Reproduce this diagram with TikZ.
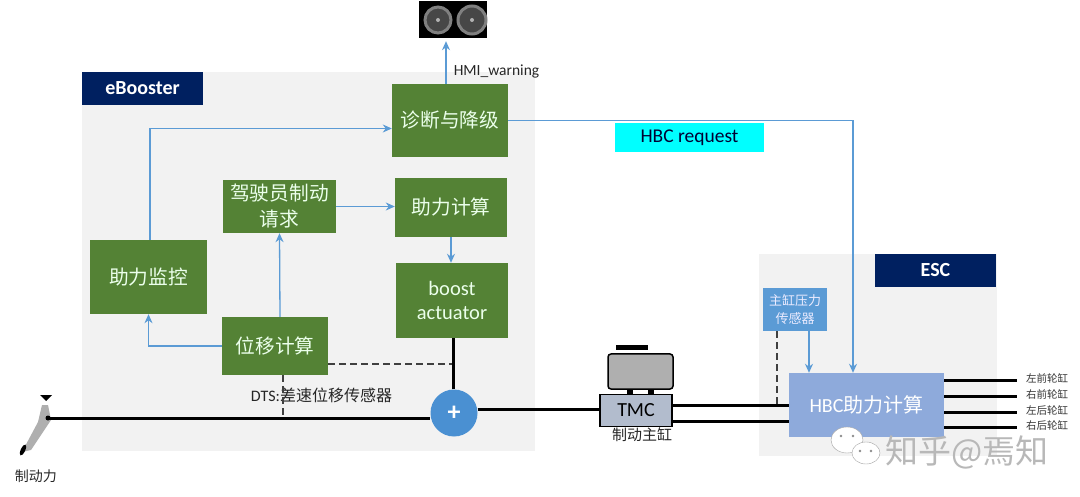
\documentclass[tikz,border=0pt]{standalone}
\usepackage{fontspec}
\usepackage{xcolor}
\setmainfont{Carlito}
\newfontfamily\cjk{Noto Sans CJK SC}
\usetikzlibrary{arrows.meta}
\definecolor{panelgray}{RGB}{242, 242, 242}
\definecolor{labelnavy}{RGB}{0, 32, 96}
\definecolor{blockgreen}{RGB}{84, 130, 53}
\definecolor{flowblue}{RGB}{91, 155, 213}
\definecolor{plusblue}{RGB}{74, 144, 210}
\definecolor{hbcblue}{RGB}{142, 170, 219}
\definecolor{requestcyan}{RGB}{0, 255, 255}
\definecolor{tankgray}{RGB}{175, 175, 175}
\definecolor{tmcgray}{RGB}{178, 188, 205}

\begin{document}
\begin{tikzpicture}[
    x=1pt, y=-1pt,
    tag/.style={
        fill=labelnavy,
        text=white,
        inner sep=0pt,
        minimum height=33pt,
        minimum width=121pt,
        font=\fontsize{20}{22}\selectfont\bfseries
    },
    block/.style={
        fill=blockgreen,
        text=white!92!green,
        inner sep=0pt,
        align=center,
        font=\fontsize{19.7}{26}\selectfont\cjk
    },
    flow/.style={
        ->,
        >={Stealth[length=9pt,width=8pt]},
        flowblue,
        line width=1.3pt
    },
    rod/.style={
        black,
        line width=3pt
    },
    sensorline/.style={
        dash pattern=on 7pt off 4pt,
        black!75,
        line width=1.3pt
    },
    wheel/.style={
        font=\fontsize{10.5}{12}\selectfont\cjk,
        text=black!80
    },
    caption/.style={
        font=\fontsize{15}{16}\selectfont\cjk,
        text=black!85
    }
]
\useasboundingbox (0,0) rectangle (1080,497);

% Panels
\fill[panelgray] (82,72) rectangle (535,451);
\fill[panelgray] (759,254) rectangle (997,456);
\node[tag] (ebooster) at (142.5,88.5) {eBooster};
\node[tag] (esc) at (935.5,270.5) {ESC};

% Dashboard
\node[fill=black, minimum width=68pt, minimum height=37pt, inner sep=0pt] (hmi) at (453,19.5) {};
\foreach \gx/\gr in {438/13, 472/14} {
    \draw[black!50, fill=black!72, line width=3pt] (\gx,20) circle (\gr);
    \fill[black!30] (\gx,20) circle (2);
}

% Blocks
\node[block, minimum width=116pt, minimum height=73pt] (diag) at (450,120.5) {诊断与降级};
\node[block, minimum width=113pt, minimum height=53pt] (driver) at (279.5,206.5) {驾驶员制动\\请求};
\node[block, minimum width=112pt, minimum height=59pt] (calc) at (451,207.5) {助力计算};
\node[block, minimum width=117pt, minimum height=74pt] (monitor) at (148.5,277) {助力监控};
\node[block, minimum width=112pt, minimum height=75pt, font=\fontsize{20.5}{24}\selectfont] (boost) at (452,300.5) {boost\\actuator};
\node[block, minimum width=106pt, minimum height=58pt] (disp) at (275,346) {位移计算};
\node[circle, fill=plusblue, text=white, minimum size=47pt, inner sep=0pt, font=\fontsize{26}{26}\selectfont\bfseries] (plus) at (454,413) {+};

% ESC side
\node[fill=flowblue, text=white!92!blue, minimum width=64pt, minimum height=43pt, inner sep=0pt, align=center, font=\fontsize{13}{18}\selectfont\cjk] (sensor) at (795,309.5) {主缸压力\\传感器};
\node[fill=hbcblue, text=white, minimum width=155pt, minimum height=64pt, inner sep=0pt, font=\fontsize{20}{22}\selectfont] (hbc) at (866.5,405) {HBC{\cjk 助力计算}};
\node[fill=requestcyan, text=black!80!blue, minimum width=149pt, minimum height=29pt, inner sep=0pt, font=\fontsize{19.5}{22}\selectfont] (request) at (689.5,137.5) {HBC request};

% Master cylinder
\fill[black] (616,345) rectangle (648,350);
\draw[black, fill=tankgray, rounded corners=3pt, line width=1.5pt] (608,354) rectangle (673,389);
\fill[black] (627,389) rectangle (633,394);
\fill[black] (648,389) rectangle (654,394);
\node[draw=black, fill=tmcgray, minimum width=72pt, minimum height=32pt, inner sep=0pt, line width=1.5pt, font=\fontsize{20}{20}\selectfont] (tmc) at (636,410.5) {TMC};

% Pedal
\fill[black] (40,395) -- (52,395) -- (46,401) -- cycle;
\fill[tankgray] (42,405) -- (48,405) -- (51,420) -- (31,450) -- (22,452) -- (38,422) -- cycle;
\fill[black, rotate around={65:(23,450)}] (23,450) ellipse (6 and 2.2);
\coordinate (pin) at (48,418);
\fill[black] (pin) circle (2.5);

% Text labels
\node[caption, font=\fontsize{15.5}{16}\selectfont] (warning) at (496.5,72) {HMI\_warning};
\node[caption, font=\fontsize{16}{16}\selectfont] (dts) at (321.5,395) {DTS:{\cjk 差速位移传感器}};
\node[caption, font=\fontsize{14}{16}\selectfont\cjk] (force) at (36,476) {制动力};
\node[caption] (mc) at (642,435) {制动主缸};

% Black rods
\draw[rod] (pin) -- (pin -| plus.west);
\draw[rod] (plus.north -| 453,0) -- (boost.south -| 453,0);
\draw[rod] (plus.east |- 0,409) -- (tmc.west |- 0,409);
\draw[rod] (tmc.east |- 0,405) -- (hbc.west |- 0,405);
\draw[rod] (tmc.east |- 0,421) -- (hbc.west |- 0,421);

% Wheel cylinders
\foreach \yy/\name in {380/左前轮缸, 396/右前轮缸, 412/左后轮缸, 427/右后轮缸} {
    \node[wheel] (w\yy) at (1047,\yy-2) {\name};
    \draw[rod] (hbc.east |- 0,\yy) -- (1017,\yy);
}

% Sensor lines
\draw[sensorline] (disp.east |- 0,364) -- (boost.south |- 0,364);
\draw[sensorline] (disp.south -| 283,0) -- (283,417);
\draw[sensorline] (sensor.south -| 777,0) -- (777,405);

% Arrows
\draw[flow] ([xshift=-4pt]diag.north) -- ([xshift=-7pt,yshift=-3pt]hmi.south);
\draw[flow] ([xshift=1.5pt]monitor.north) |- ([yshift=-8pt]diag.west);
\draw[flow] (disp.west) -| (monitor.south);
\draw[flow] ([xshift=5pt]disp.north) -- ([xshift=0pt]driver.south);
\draw[flow] (driver.east) -- (driver.east -| calc.west);
\draw[flow] (calc.south) -- (calc.south |- boost.north);
\draw[flow] (diag.east) -| (hbc.north -| 853,0);
\draw[flow] (sensor.south -| 809,0) -- (hbc.north -| 809,0);

% Watermark
\draw[black!35, fill=white] (847,440) ellipse (16 and 13);
\draw[black!35, fill=white] (866,453) ellipse (14 and 11);
\foreach \ex/\ey in {841/436, 853/436, 860/451, 871/451} {
    \fill[black!45] (\ex,\ey) circle (1.3);
}
\node[font=\fontsize{33}{35}\selectfont\cjk, text=black!28] (mark) at (967,452) {知乎@焉知};

\end{tikzpicture}
\end{document}
